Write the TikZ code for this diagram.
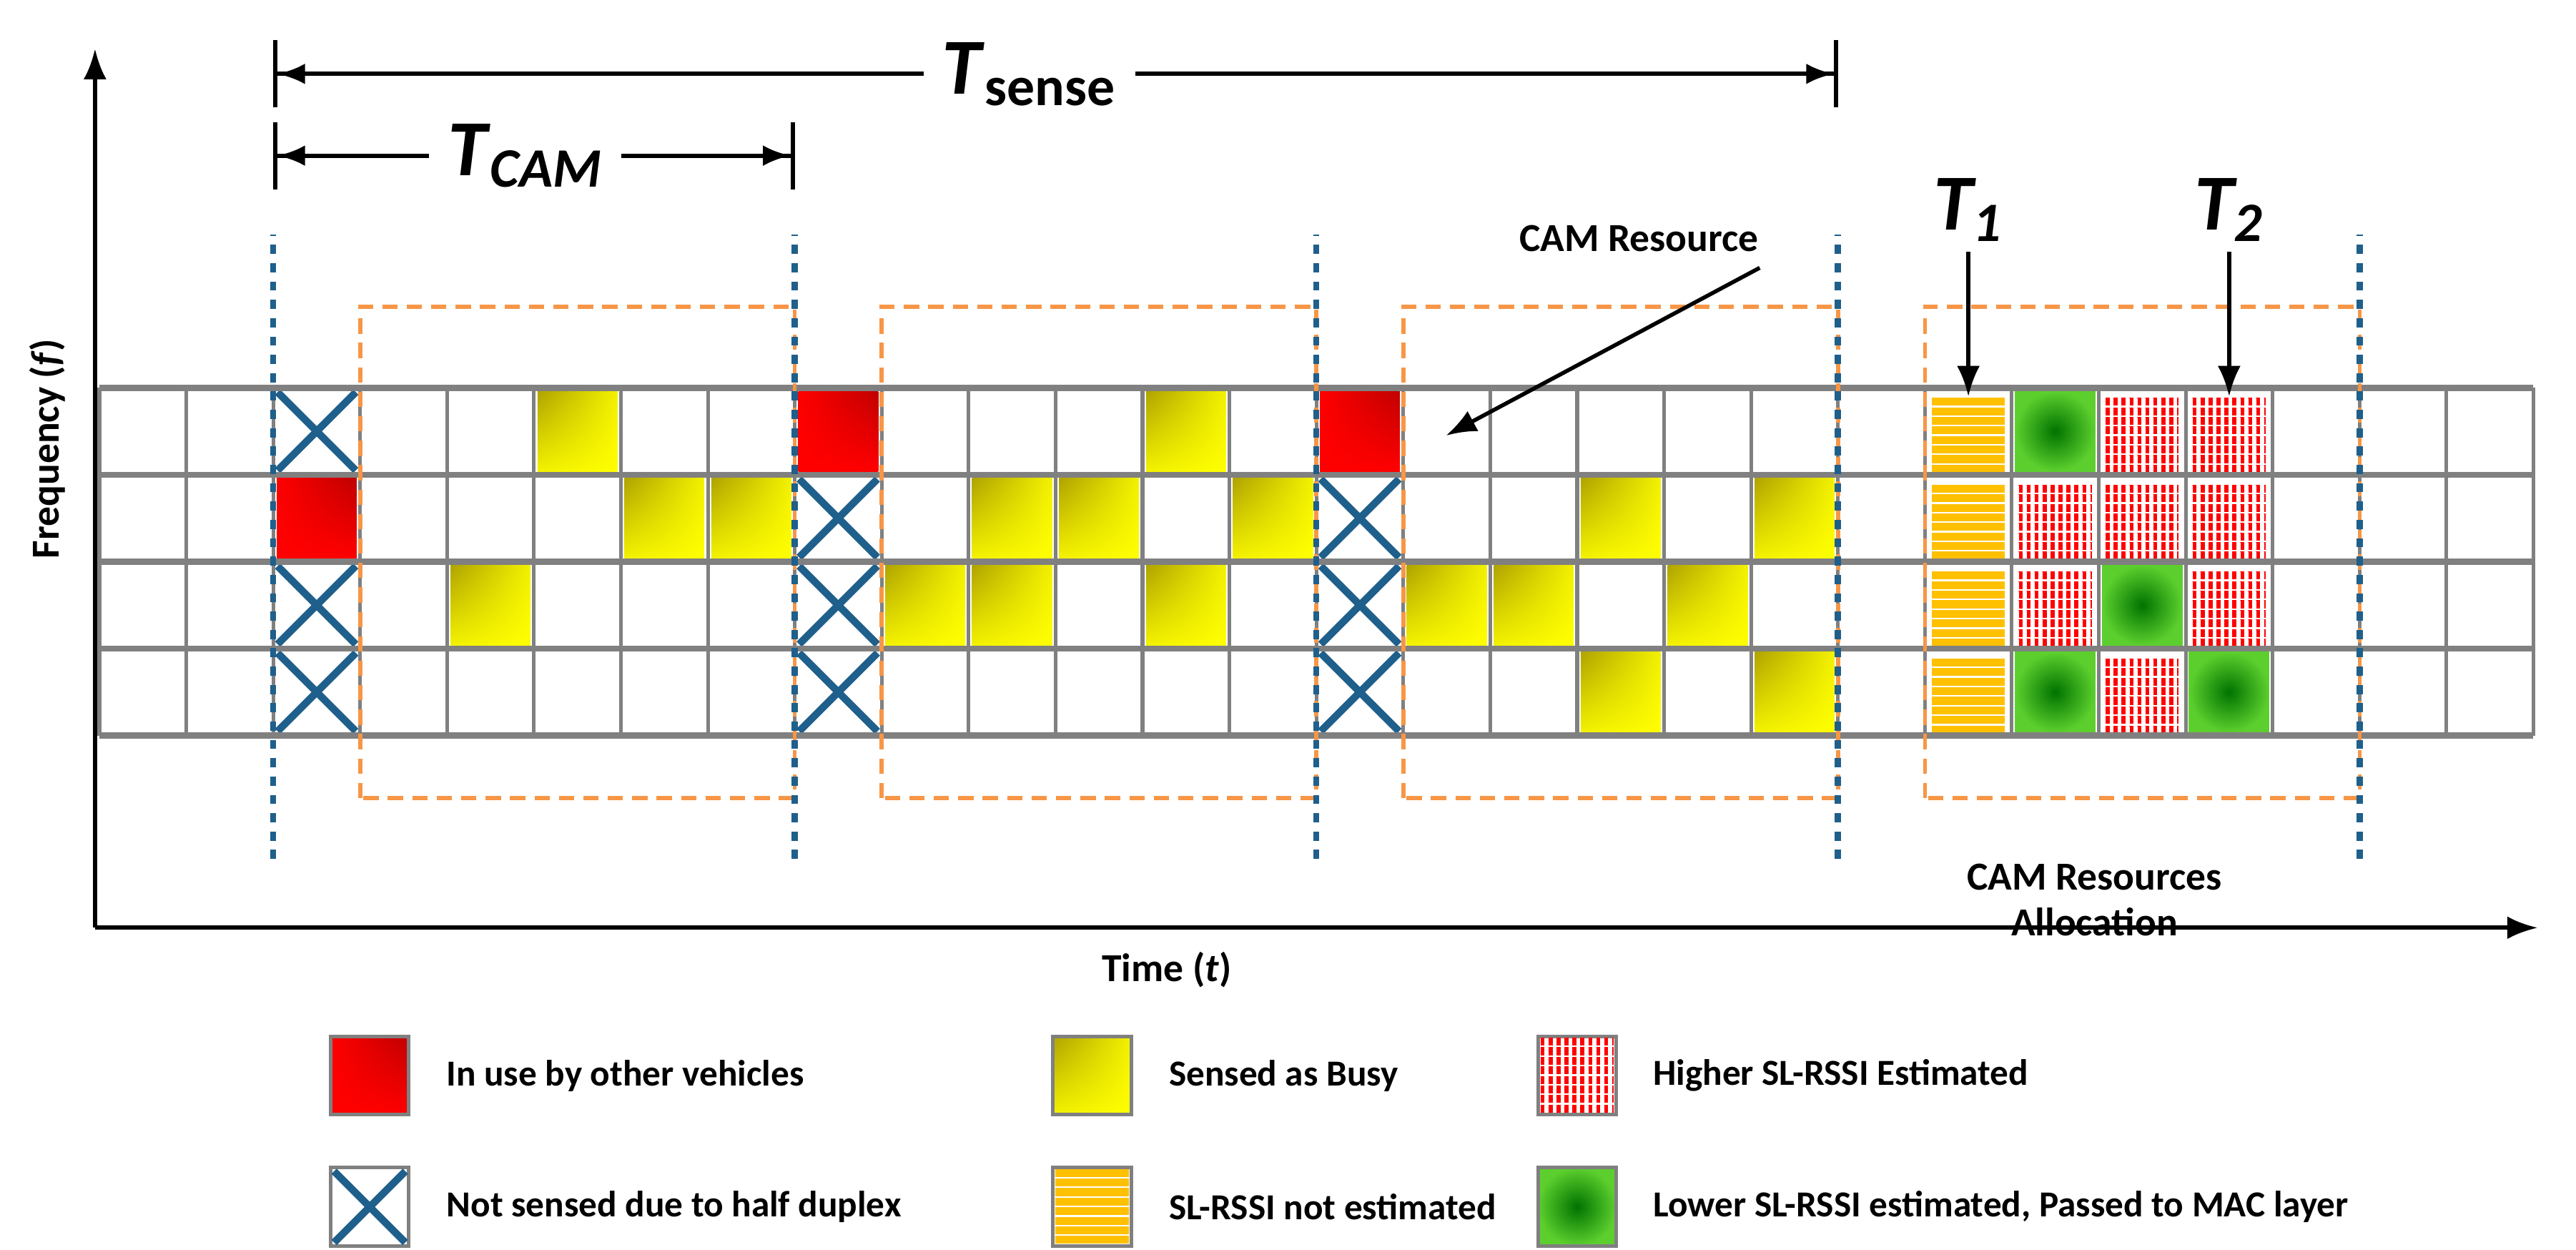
\documentclass[tikz,border=0pt]{standalone}
\usepackage{fontspec}
\setmainfont{Carlito}
\usetikzlibrary{arrows.meta, shadings}
\definecolor{gridgray}{HTML}{808080}
\definecolor{xblue}{HTML}{1F5F8B}
\definecolor{boxorange}{HTML}{F79646}
\definecolor{stripe}{HTML}{FFC000}
\definecolor{olive}{HTML}{AFA300}
\definecolor{leaf}{HTML}{5CCF2E}
\tikzset{
  busy/.style={upper left=olive, upper right=yellow!85!olive, lower left=yellow!85!olive, lower right=yellow},
  used/.style={upper right=red!75!black, upper left=red, lower left=red, lower right=red},
  passed/.style={inner color=green!45!black, outer color=leaf},
  lbl/.style={font=\bfseries\fontsize{12}{14}\selectfont, anchor=west},
  span/.style={{Bar[width=22pt]Latex[length=9pt]}-{Latex[length=9pt]Bar[width=22pt]}, line width=1.4pt},
}
\newcommand{\xcell}[2]{\draw[xblue, line width=2.4pt] (#1+0.05,#2+0.05) -- (#1+0.95,#2+0.95) (#1+0.05,#2+0.95) -- (#1+0.95,#2+0.05);}
\newcommand{\stripes}[2]{\foreach \k in {1,...,8} \draw[stripe, line width=2.6pt] (#1+0.08,#2+\k*0.11-0.04) -- (#1+0.92,#2+\k*0.11-0.04);}
\newcommand{\redots}[2]{\foreach \k in {1,...,8} \draw[red, line width=2.6pt, dash pattern=on 1.3pt off 1.3pt] (#1+0.08,#2+\k*0.11-0.04) -- (#1+0.92,#2+\k*0.11-0.04);}
\begin{document}
\begin{tikzpicture}
    \useasboundingbox (-1.143,-5.91) rectangle (28.49,8.46);
    % Axes
    \coordinate (origin) at (-0.05,-2.21);
    \coordinate (ytop) at (-0.05,7.9);
    \coordinate (xend) at (28.05,-2.21);
    \draw[-{Latex[length=10pt]}, line width=1.4pt] (origin) -- (ytop);
    \draw[-{Latex[length=10pt]}, line width=1.4pt] (origin) -- (xend);
    \node[font=\bfseries\fontsize{13}{15}\selectfont, rotate=90] (freq) at (-0.6,3.3) {Frequency (\textit{f})};
    \node[font=\bfseries\fontsize{13}{15}\selectfont] (time) at (12.28,-2.69) {Time (\textit{t})};
    % Sensed as busy
    \foreach \c/\r in {5/0,12/0,6/1,7/1,10/1,11/1,13/1,17/1,19/1,4/2,9/2,10/2,12/2,15/2,16/2,18/2,17/3,19/3}
      \shade[busy] (\c+0.04,3.04-\r) rectangle (\c+0.96,3.96-\r);
    % In use
    \foreach \c/\r in {8/0,14/0,2/1}
      \shade[used] (\c+0.04,3.04-\r) rectangle (\c+0.96,3.96-\r);
    % Half duplex
    \foreach \c/\r in {2/0,2/2,2/3,8/1,8/2,8/3,14/1,14/2,14/3} \xcell{\c}{3-\r}
    % Selection window
    \foreach \r in {0,...,3} \stripes{21}{3-\r}
    \foreach \c/\r in {23/0,24/0,22/1,23/1,24/1,22/2,24/2,23/3} \redots{\c}{3-\r}
    \foreach \c/\r in {22/0,23/2,22/3,24/3}
      \shade[passed] (\c+0.04,3.04-\r) rectangle (\c+0.96,3.96-\r);
    % Grid
    \draw[gridgray, line width=1.2pt] (0,0) grid (28,4);
    \foreach \y in {0,...,4} \draw[gridgray, line width=2pt] (0,\y) -- (28,\y);
    % Windows
    \foreach \x in {3,9,15,21}
      \draw[boxorange, line width=1.3pt, dash pattern=on 5pt off 3pt] (\x,-0.72) rectangle (\x+5,4.93);
    \foreach \x in {2,8,14,20,26}
      \draw[xblue, line width=2pt, dash pattern=on 3pt off 3pt] (\x,-1.42) -- (\x,5.76);
    % Periods
    \coordinate (s1) at (2,7.61);
    \coordinate (s2) at (20,7.61);
    \coordinate (c1) at (2,6.67);
    \coordinate (c2) at (8,6.67);
    \draw[span] (s1) -- (s2);
    \draw[span] (c1) -- (c2);
    \node[fill=white, inner xsep=6pt, font=\bfseries\fontsize{26}{30}\selectfont] (tsense) at (10.7,7.61) {\textit{T}\textsubscript{sense}};
    \node[fill=white, inner xsep=6pt, font=\bfseries\fontsize{26}{30}\selectfont] (tcam) at (4.9,6.67) {\textit{T}\textsubscript{\textit{CAM}}};
    % Callouts
    \node[font=\bfseries\fontsize{13}{15}\selectfont] (camres) at (17.71,5.72) {CAM Resource};
    \coordinate (camtip) at (15.49,3.45);
    \draw[-{Latex[length=10pt]}, line width=1.3pt] (19.1,5.38) -- (camtip);
    \node[font=\bfseries\itshape\fontsize{26}{30}\selectfont] (t1) at (21.5,6.05) {T\textsubscript{1}};
    \node[font=\bfseries\itshape\fontsize{26}{30}\selectfont] (t2) at (24.5,6.05) {T\textsubscript{2}};
    \coordinate (t1tip) at (21.5,3.9);
    \coordinate (t2tip) at (24.5,3.9);
    \draw[-{Latex[length=10pt]}, line width=1.3pt] (t1) -- (t1tip);
    \draw[-{Latex[length=10pt]}, line width=1.3pt] (t2) -- (t2tip);
    \node[font=\bfseries\fontsize{13}{15}\selectfont, align=center] (alloc) at (22.95,-1.89) {CAM Resources\\Allocation};
    % Legend
    \shade[used, draw=gridgray, line width=1.2pt] (2.66,-4.36) rectangle (3.56,-3.46);
    \node[lbl] (l1) at (3.87,-3.91) {In use by other vehicles};
    \draw[gridgray, line width=1.2pt] (2.66,-5.87) rectangle (3.56,-4.97);
    \draw[xblue, line width=2.4pt] (2.7,-5.83) -- (3.52,-5.01) (2.7,-5.01) -- (3.52,-5.83);
    \node[lbl] (l2) at (3.87,-5.42) {Not sensed due to half duplex};
    \shade[busy, draw=gridgray, line width=1.2pt] (10.97,-4.36) rectangle (11.87,-3.46);
    \node[lbl] (l3) at (12.18,-3.91) {Sensed as Busy};
    \draw[gridgray, line width=1.2pt] (10.97,-5.87) rectangle (11.87,-4.97);
    \stripes{10.92}{-5.87}
    \node[lbl] (l4) at (12.18,-5.42) {SL-RSSI not estimated};
    \draw[gridgray, line width=1.2pt] (16.55,-4.36) rectangle (17.45,-3.46);
    \redots{16.5}{-4.36}
    \node[lbl] (l5) at (17.75,-3.91) {Higher SL-RSSI Estimated};
    \shade[passed, draw=gridgray, line width=1.2pt] (16.55,-5.87) rectangle (17.45,-4.97);
    \node[lbl] (l6) at (17.75,-5.42) {Lower SL-RSSI estimated, Passed to MAC layer};
\end{tikzpicture}
\end{document}
